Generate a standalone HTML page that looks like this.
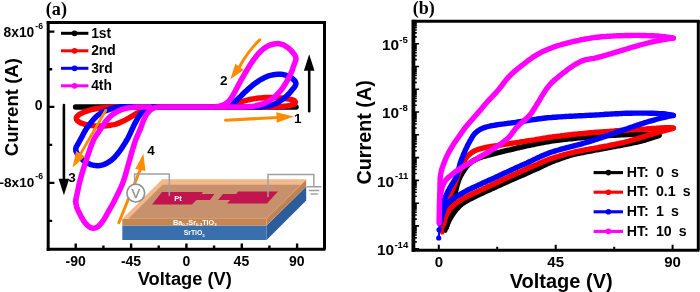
<!DOCTYPE html>
<html><head><meta charset="utf-8"><title>Figure</title>
<style>html,body{margin:0;padding:0;background:#fff}svg{display:block}</style></head>
<body>
<svg width="700" height="292" viewBox="0 0 700 292">
<rect width="700" height="292" fill="#fff"/>
<path d="M75.6,107.0 L296.0,107.0" fill="none" stroke="#000" stroke-width="5.5" stroke-linecap="round" stroke-linejoin="round" />
<path d="M160.0,106.9 L158.0,106.9 L156.0,106.9 L154.0,107.0 L152.0,107.2 L150.1,107.6 L148.1,108.1 L146.2,108.6 L144.3,109.3 L142.5,110.1 L140.8,111.0 L139.0,112.0 L137.3,113.0 L135.5,114.0 L133.8,115.1 L132.1,116.1 L130.4,117.1 L128.7,118.1 L126.9,119.1 L125.2,120.1 L123.4,121.0 L121.6,121.8 L119.7,122.6 L117.9,123.4 L116.0,124.1 L114.1,124.6 L112.1,124.9 L110.2,125.2 L108.2,125.5 L106.2,125.8 L104.2,125.9 L102.2,126.0 L100.2,126.0 L98.2,126.0 L96.2,126.0 L94.2,125.9 L92.2,125.6 L90.3,125.3 L88.3,125.0 L86.3,124.6 L84.4,124.2 L82.5,123.5 L80.6,122.8 L78.9,121.9 L77.4,120.7 L76.4,119.2 L76.3,117.6 L77.2,116.2 L78.6,114.9 L80.3,113.9 L82.1,113.0 L83.9,112.1 L85.7,111.4 L87.6,110.8 L89.6,110.2 L91.5,109.7 L93.4,109.2 L95.4,108.8 L97.4,108.5 L99.4,108.2 L101.3,107.9 L103.3,107.7 L105.3,107.5 L107.3,107.4 L109.3,107.2 L111.3,107.1 L113.3,107.0 L115.3,106.9" fill="none" stroke="#ff0000" stroke-width="5.5" stroke-linecap="round" stroke-linejoin="round" />
<path d="M222.0,106.9 L224.0,106.6 L226.0,106.2 L227.9,105.9 L229.9,105.5 L231.9,105.1 L233.8,104.5 L235.7,103.8 L237.5,103.1 L239.4,102.5 L241.3,101.9 L243.2,101.2 L245.2,100.7 L247.1,100.2 L249.1,99.7 L251.0,99.3 L253.0,98.9 L255.0,98.6 L257.0,98.3 L259.0,98.1 L261.0,97.9 L262.9,97.7 L264.9,97.6 L267.0,97.5 L269.0,97.5 L271.0,97.5 L273.0,97.5 L275.0,97.6 L277.0,97.7 L279.0,97.9 L281.0,98.0 L283.0,98.2 L285.0,98.5 L286.9,98.8 L288.9,99.1 L290.9,99.5 L292.8,100.0 L294.5,100.8 L295.4,101.9 L295.1,103.2 L293.8,104.2 L292.0,104.9 L290.0,105.4 L288.1,105.8 L286.1,106.1 L284.1,106.3 L282.1,106.5 L280.1,106.7 L278.1,106.8 L276.1,106.9 L274.1,106.9 L272.1,106.9 L270.1,106.9 L268.1,106.9 L266.1,106.9 L264.1,106.9 L262.1,106.9 L260.1,106.9 L258.1,106.9 L256.1,106.9 L254.0,106.9 L252.0,106.9 L250.0,106.9 L248.0,106.9 L246.0,106.9 L244.0,106.9 L242.0,106.9 L240.0,106.9" fill="none" stroke="#ff0000" stroke-width="5.5" stroke-linecap="round" stroke-linejoin="round" />
<path d="M135.0,106.9 L133.0,106.8 L131.0,106.8 L129.0,106.7 L127.0,106.7 L125.0,106.7 L123.0,106.8 L121.0,107.0 L119.0,107.2 L117.0,107.4 L115.1,107.7 L113.1,108.2 L111.2,108.8 L109.3,109.4 L107.4,110.1 L105.5,110.7 L103.7,111.6 L102.0,112.5 L100.3,113.6 L98.6,114.7 L97.0,115.9 L95.6,117.3 L94.3,118.7 L92.9,120.2 L91.6,121.8 L90.4,123.3 L89.2,124.9 L88.0,126.6 L86.8,128.2 L85.7,129.8 L84.7,131.5 L83.7,133.3 L82.8,135.1 L81.9,136.9 L80.9,138.6 L80.0,140.4 L79.0,142.1 L78.0,143.8 L77.0,145.6 L76.1,147.3 L75.7,149.2 L75.9,151.0 L76.7,152.7 L77.8,154.4 L79.0,156.0 L80.4,157.5 L81.7,158.9 L83.2,160.3 L84.7,161.5 L86.4,162.6 L88.2,163.5 L90.0,164.3 L91.9,164.9 L93.8,165.3 L95.8,165.6 L97.7,165.7 L99.7,165.5 L101.7,165.1 L103.6,164.6 L105.4,163.9 L107.2,163.0 L108.9,161.9 L110.6,160.8 L112.2,159.6 L113.6,158.3 L115.0,156.8 L116.3,155.3 L117.6,153.8 L118.8,152.2 L120.0,150.6 L121.1,149.0 L122.3,147.3 L123.4,145.6 L124.4,143.9 L125.5,142.2 L126.5,140.5 L127.5,138.8 L128.5,137.0 L129.3,135.2 L130.2,133.4 L131.0,131.6 L131.8,129.7 L132.7,127.9 L133.6,126.1 L134.4,124.3 L135.3,122.6 L136.3,120.8 L137.3,119.0 L138.3,117.3 L139.4,115.6 L140.5,114.0 L141.7,112.4 L143.2,111.0 L144.7,109.8 L146.3,108.8 L148.2,108.0 L150.1,107.4 L152.0,107.1 L154.0,106.9 L156.0,106.9 L158.0,106.9 L160.0,106.9" fill="none" stroke="#0000ff" stroke-width="5.5" stroke-linecap="round" stroke-linejoin="round" />
<path d="M222.0,106.9 L224.0,106.6 L226.0,106.2 L227.9,105.8 L229.8,105.2 L231.5,104.2 L233.1,103.0 L234.6,101.8 L236.2,100.5 L237.7,99.2 L239.1,97.8 L240.6,96.4 L242.0,95.0 L243.4,93.5 L244.8,92.1 L246.3,90.8 L247.8,89.4 L249.3,88.1 L250.8,86.8 L252.3,85.5 L253.9,84.3 L255.5,83.1 L257.2,81.9 L258.8,80.8 L260.5,79.7 L262.3,78.8 L264.1,77.8 L265.9,77.0 L267.7,76.2 L269.6,75.6 L271.6,75.1 L273.5,74.7 L275.5,74.4 L277.5,74.2 L279.5,74.2 L281.5,74.3 L283.4,74.6 L285.4,75.1 L287.2,75.8 L289.1,76.5 L290.8,77.5 L292.4,78.6 L293.9,79.9 L295.2,81.4 L295.9,83.0 L295.8,84.7 L294.9,86.4 L293.7,88.0 L292.4,89.5 L291.2,91.1 L289.9,92.7 L288.6,94.1 L287.1,95.5 L285.6,96.9 L284.1,98.2 L282.5,99.4 L280.9,100.5 L279.2,101.6 L277.4,102.6 L275.7,103.5 L273.8,104.3 L271.9,104.9 L270.0,105.5 L268.1,106.0 L266.1,106.3 L264.1,106.6 L262.1,106.8 L260.1,107.0 L258.1,107.0 L256.1,107.0 L254.1,107.0 L252.1,106.9 L250.1,106.9 L248.1,106.9 L246.1,106.9 L244.1,106.9 L242.1,106.9 L240.1,106.9 L238.1,106.9 L236.0,106.9 L234.0,106.9 L232.0,106.9 L230.0,106.9 L228.0,106.9 L226.0,106.9 L225.0,106.9" fill="none" stroke="#0000ff" stroke-width="5.5" stroke-linecap="round" stroke-linejoin="round" />
<path d="M75.6,201.4 L76.0,199.4 L76.3,197.5 L76.8,195.5 L77.2,193.5 L77.6,191.6 L78.0,189.6 L78.4,187.7 L78.8,185.7 L79.2,183.7 L79.7,181.8 L80.3,179.9 L80.8,177.9 L81.3,176.0 L81.8,174.1 L82.4,172.2 L83.0,170.2 L83.6,168.3 L84.2,166.4 L84.8,164.5 L85.4,162.6 L86.1,160.7 L86.7,158.8 L87.3,156.9 L88.0,155.0 L88.6,153.1 L89.3,151.2 L89.9,149.3 L90.6,147.4 L91.2,145.6 L92.0,143.7 L92.8,141.9 L93.6,140.0 L94.5,138.3 L95.5,136.5 L96.6,134.9 L97.8,133.2 L98.9,131.6 L100.0,129.9 L101.1,128.3 L102.3,126.6 L103.4,124.9 L104.5,123.2 L105.6,121.6 L106.9,120.1 L108.2,118.6 L109.6,117.2 L111.1,115.8 L112.6,114.5 L114.3,113.4 L116.0,112.4 L117.7,111.4 L119.5,110.5 L121.3,109.7 L123.2,109.1 L125.1,108.5 L127.1,108.0 L129.0,107.7 L131.0,107.4 L133.0,107.2 L135.0,107.1 L137.0,107.0 L139.0,106.9 L141.0,106.9 L143.0,106.9 L145.0,106.9 L147.0,106.9 L149.0,106.9 L150.0,106.9" fill="none" stroke="#ff00ff" stroke-width="5.5" stroke-linecap="round" stroke-linejoin="round" />
<path d="M75.6,201.4 L75.9,203.4 L76.3,205.3 L76.7,207.3 L77.4,209.1 L78.3,210.9 L79.2,212.7 L80.1,214.5 L81.0,216.3 L82.0,218.0 L83.0,219.7 L84.1,221.4 L85.3,223.0 L86.6,224.5 L88.0,225.9 L89.6,227.1 L91.3,227.9 L93.2,228.2 L95.1,228.0 L96.9,227.3 L98.5,226.2 L99.9,224.8 L101.2,223.3 L102.4,221.7 L103.6,220.1 L104.6,218.4 L105.6,216.7 L106.6,214.9 L107.5,213.1 L108.5,211.4 L109.5,209.6 L110.5,207.9 L111.5,206.2 L112.5,204.4 L113.4,202.7 L114.3,200.9 L115.2,199.1 L116.1,197.3 L117.0,195.5 L117.9,193.7 L118.8,191.9 L119.6,190.1 L120.5,188.3 L121.3,186.5 L122.1,184.6 L122.8,182.8 L123.5,180.9 L124.1,179.0 L124.8,177.1 L125.3,175.2 L125.9,173.3 L126.4,171.3 L126.9,169.4 L127.5,167.5 L128.0,165.6 L128.6,163.6 L129.1,161.7 L129.7,159.8 L130.2,157.9 L130.8,155.9 L131.3,154.0 L131.9,152.1 L132.4,150.2 L133.0,148.2 L133.6,146.3 L134.2,144.4 L134.8,142.5 L135.4,140.6 L136.1,138.7 L136.9,136.9 L137.7,135.1 L138.5,133.2 L139.3,131.4 L140.1,129.6 L140.8,127.7 L141.5,125.8 L142.2,123.9 L142.9,122.1 L143.6,120.2 L144.4,118.4 L145.3,116.6 L146.2,114.8 L147.4,113.2 L148.6,111.7 L150.1,110.3 L151.6,109.1 L153.4,108.2 L155.2,107.5 L157.1,107.2 L159.1,107.0 L161.1,106.9 L163.1,106.9 L165.1,106.9 L167.1,106.9 L169.1,106.9 L171.1,106.9 L173.1,106.9 L175.1,106.9 L177.1,106.9 L179.1,106.9 L181.1,106.9 L183.1,106.9 L185.1,106.9 L187.1,106.9 L189.1,106.9 L191.1,106.9 L193.1,106.9 L195.1,106.9 L197.1,106.9 L199.1,106.9 L201.1,106.9 L203.1,106.9 L205.1,106.9 L207.2,106.9 L209.2,106.9 L211.2,106.9 L213.2,106.9 L215.1,106.8 L217.1,106.6 L219.1,106.2 L221.0,105.7 L222.9,105.0 L224.7,104.2 L226.4,103.2 L227.9,102.0 L229.4,100.6 L230.6,99.0 L231.7,97.4 L232.7,95.6 L233.7,93.9 L234.7,92.2 L235.6,90.4 L236.5,88.6 L237.5,86.9 L238.4,85.1 L239.3,83.3 L240.3,81.6 L241.2,79.8 L242.2,78.1 L243.3,76.4 L244.3,74.6 L245.3,72.9 L246.3,71.2 L247.3,69.5 L248.4,67.8 L249.4,66.0 L250.5,64.3 L251.6,62.7 L252.7,61.0 L253.9,59.4 L255.1,57.8 L256.3,56.2 L257.5,54.7 L258.9,53.2 L260.3,51.8 L261.7,50.4 L263.2,49.0 L264.8,47.9 L266.5,46.8 L268.2,45.8 L270.0,45.0 L271.9,44.5 L273.9,44.0 L275.8,43.7 L277.8,43.6 L279.8,43.8 L281.7,44.3 L283.5,44.9 L285.3,45.9 L286.9,47.0 L288.5,48.1 L290.0,49.5 L291.4,50.9 L292.7,52.4 L294.0,54.0 L295.1,55.6 L295.8,57.3 L296.0,59.2 L295.5,61.0 L294.8,62.9 L294.1,64.7 L293.4,66.6 L292.8,68.5 L292.2,70.4 L291.4,72.3 L290.6,74.1 L289.7,75.9 L288.8,77.7 L287.8,79.4 L286.9,81.2 L285.9,82.9 L284.9,84.6 L283.8,86.3 L282.7,88.0 L281.5,89.6 L280.2,91.1 L278.8,92.6 L277.5,94.0 L276.1,95.4 L274.6,96.8 L273.1,98.1 L271.5,99.3 L269.8,100.4 L268.1,101.4 L266.3,102.3 L264.5,103.2 L262.7,103.9 L260.8,104.5 L258.8,105.0 L256.9,105.5 L255.0,105.9 L253.0,106.2 L251.0,106.4 L249.0,106.6 L247.0,106.7 L245.0,106.8 L243.0,106.9 L241.0,106.9 L239.0,106.9 L237.0,106.9 L235.0,106.9 L233.0,106.9 L231.0,106.9 L229.0,106.9 L227.0,106.9 L225.0,106.9 L223.0,106.9 L221.0,106.9 L219.0,106.9 L217.0,106.9 L216.0,106.9" fill="none" stroke="#ff00ff" stroke-width="5.5" stroke-linecap="round" stroke-linejoin="round" />
<path d="M63.9,105.0 L63.9,179.7" stroke="#000" stroke-width="2.6" fill="none" stroke-linecap="round"/>
<path d="M63.9,195.2 L58.6,178.7 L69.2,178.7 Z" fill="#000"/>
<path d="M309.2,111.2 L309.2,69.8" stroke="#000" stroke-width="2.6" fill="none" stroke-linecap="round"/>
<path d="M309.2,54.3 L314.5,70.8 L303.9,70.8 Z" fill="#000"/>
<path d="M225.5,120.2 L277.5,117.5" stroke="#ff8c00" stroke-width="3.1" fill="none" stroke-linecap="round"/>
<path d="M293.8,116.6 L276.8,122.7 L276.3,112.3 Z" fill="#ff8c00"/>
<path d="M259.7,39.8 Q247.4,51.7 239.0,67.7" stroke="#ff8c00" stroke-width="3.0" fill="none" stroke-linecap="round"/>
<path d="M230.3,79.3 L235.4,63.8 L243.7,70.0 Z" fill="#ff8c00"/>
<path d="M105.8,110.3 L80.1,154.6" stroke="#ff8c00" stroke-width="2.8" fill="none" stroke-linecap="round"/>
<path d="M72.6,167.6 L76.1,151.1 L85.1,156.4 Z" fill="#ff8c00"/>
<path d="M118.8,222.8 L140.5,169.0" stroke="#ff8c00" stroke-width="3.0" fill="none" stroke-linecap="round"/>
<path d="M143.4,153.8 L145.5,171.0 L135.2,169.1 Z" fill="#ff8c00"/>
<text x="297.8" y="123" font-family='"Liberation Sans", Arial, sans-serif' font-size="13.5" font-weight="bold" text-anchor="middle" fill="#000" >1</text>
<text x="223.7" y="85.2" font-family='"Liberation Sans", Arial, sans-serif' font-size="13.5" font-weight="bold" text-anchor="middle" fill="#000" >2</text>
<text x="72" y="181.6" font-family='"Liberation Sans", Arial, sans-serif' font-size="13.5" font-weight="bold" text-anchor="middle" fill="#000" >3</text>
<text x="151.1" y="154.8" font-family='"Liberation Sans", Arial, sans-serif' font-size="13.5" font-weight="bold" text-anchor="middle" fill="#000" >4</text>
<g>
<polygon points="122.3,225.4 266.6,225.4 266.6,239.9 122.3,239.9" fill="#3a6fae"/>
<polygon points="266.6,225.4 306.2,186.4 306.2,200.6 266.6,239.9" fill="#2d5c9b"/>
<polygon points="122.3,218.8 266.6,218.8 266.6,225.6 122.3,225.6" fill="#c6864f"/>
<polygon points="266.6,218.8 306.2,179.4 306.2,186.6 266.6,225.6" fill="#bf8252"/>
<polygon points="122.3,218.8 162.2,179.2 306.2,179.2 266.6,218.8" fill="#f4b98a"/>
<polygon points="128.3,218.8 162.5,184.8 300.6,184.8 266.6,218.8" fill="#c7916d"/>
<polygon points="162,192 203,192 201.4,194 214.4,194 210,200 196.4,200 192,204.4 152,204.4" fill="#c2154f"/>
<polygon points="223,194 236.2,194 238,191.6 278,191.6 267,203.6 227,203.6 230.2,200 218,200" fill="#c2154f"/>
<path d="M134.6,184.2 V173.9 H169.3 V196" fill="none" stroke="#a0a0a0" stroke-width="1.5"/>
<path d="M268,197 V174.6 H313.8 V186.7" fill="none" stroke="#a0a0a0" stroke-width="1.5"/>
<path d="M306.5,186.8 H321.5 M308.8,190.5 H319.3 M310.6,194 H317.8" fill="none" stroke="#a0a0a0" stroke-width="1.4"/>
<circle cx="135.8" cy="193.1" r="8.9" fill="#fff" stroke="#929292" stroke-width="1.7"/>
<text x="135.8" y="197.8" font-family='"Liberation Sans", Arial, sans-serif' font-size="13" text-anchor="middle" fill="#929292" stroke="#929292" stroke-width="0.3">V</text>
<text x="178" y="201.4" font-family='"Liberation Sans", Arial, sans-serif' font-size="7.6" font-weight="bold" text-anchor="middle" fill="#fff">Pt</text>
<text x="194.8" y="224.6" font-family='"Liberation Sans", Arial, sans-serif' font-size="7.3" font-weight="bold" text-anchor="middle" fill="#fff">Ba<tspan font-size="4.4" dy="1.6">0.7</tspan><tspan dy="-1.6">Sr</tspan><tspan font-size="4.4" dy="1.6">0.3</tspan><tspan dy="-1.6">TiO</tspan><tspan font-size="4.4" dy="1.6">3</tspan></text>
<text x="194.2" y="235" font-family='"Liberation Sans", Arial, sans-serif' font-size="6.9" font-weight="bold" text-anchor="middle" fill="#fff">SrTiO<tspan font-size="4.2" dy="1.5">3</tspan></text>
</g>
<path d="M48.2,22.6 H324.5" stroke="#000" stroke-width="3" fill="none" stroke-linecap="square"/>
<path d="M324.5,22.6 V249.3" stroke="#000" stroke-width="3" fill="none"/>
<path d="M48.2,21.1 V250.8" stroke="#000" stroke-width="3" fill="none"/>
<path d="M46.7,249.3 H325.5" stroke="#000" stroke-width="3" fill="none"/>
<path d="M75.7,249.3 v-5.8 M103.4,249.3 v-3.7 M131.1,249.3 v-5.8 M158.7,249.3 v-3.7 M186.4,249.3 v-5.8 M214.1,249.3 v-3.7 M241.8,249.3 v-5.8 M269.4,249.3 v-3.7 M297.1,249.3 v-5.8 M48.2,31.6 h6.2 M48.2,69.2 h4 M48.2,106.9 h6.2 M48.2,144.9 h4 M48.2,182.9 h6.2 M48.2,220.9 h4" stroke="#000" stroke-width="2.4" fill="none"/>
<text x="75.6" y="265.7" font-family='"Liberation Sans", Arial, sans-serif' font-size="14" font-weight="bold" text-anchor="middle" fill="#000" >-90</text>
<text x="131.0" y="265.7" font-family='"Liberation Sans", Arial, sans-serif' font-size="14" font-weight="bold" text-anchor="middle" fill="#000" >-45</text>
<text x="186.3" y="265.7" font-family='"Liberation Sans", Arial, sans-serif' font-size="14" font-weight="bold" text-anchor="middle" fill="#000" >0</text>
<text x="241.4" y="265.7" font-family='"Liberation Sans", Arial, sans-serif' font-size="14" font-weight="bold" text-anchor="middle" fill="#000" >45</text>
<text x="296.8" y="265.7" font-family='"Liberation Sans", Arial, sans-serif' font-size="14" font-weight="bold" text-anchor="middle" fill="#000" >90</text>
<text x="42.6" y="110.30000000000001" font-family='"Liberation Sans", Arial, sans-serif' font-size="14" font-weight="bold" text-anchor="end" fill="#000" >0</text>
<text x="34.3" y="36.80000000000001" font-family='"Liberation Sans", Arial, sans-serif' font-size="13.8" font-weight="bold" text-anchor="end" fill="#000">8x10</text>
<text x="35.3" y="28.50000000000001" font-family='"Liberation Sans", Arial, sans-serif' font-size="8.6" font-weight="bold" text-anchor="start" fill="#000">-6</text>
<text x="34.3" y="187.39999999999998" font-family='"Liberation Sans", Arial, sans-serif' font-size="13.6" font-weight="bold" text-anchor="end" fill="#000">-8x10</text>
<text x="35.3" y="179.09999999999997" font-family='"Liberation Sans", Arial, sans-serif' font-size="8.6" font-weight="bold" text-anchor="start" fill="#000">-6</text>
<text x="184.8" y="284.6" font-family='"Liberation Sans", Arial, sans-serif' font-size="18.3" font-weight="bold" text-anchor="middle" fill="#000" >Voltage (V)</text>
<text transform="translate(17.7,107.1) rotate(-90)" font-family='"Liberation Sans", Arial, sans-serif' font-size="18.6" font-weight="bold" text-anchor="middle" fill="#000">Current (A)</text>
<text x="45.8" y="14.5" font-family='"Liberation Serif", "Times New Roman", serif' font-size="18.2" font-weight="bold" text-anchor="start" fill="#000" >(a)</text>
<path d="M61,33.3 H88.4" stroke="#000" stroke-width="3" fill="none"/>
<circle cx="74.6" cy="33.3" r="2.9" fill="#000"/>
<text x="91.2" y="37.5" font-family='"Liberation Sans", Arial, sans-serif' font-size="13.8" font-weight="bold" text-anchor="start" fill="#000" >1st</text>
<path d="M61,50.8 H88.4" stroke="#ff0000" stroke-width="3" fill="none"/>
<circle cx="74.6" cy="50.8" r="2.9" fill="#ff0000"/>
<text x="91.2" y="55.0" font-family='"Liberation Sans", Arial, sans-serif' font-size="13.8" font-weight="bold" text-anchor="start" fill="#000" >2nd</text>
<path d="M61,68.3 H88.4" stroke="#0000ff" stroke-width="3" fill="none"/>
<circle cx="74.6" cy="68.3" r="2.9" fill="#0000ff"/>
<text x="91.2" y="72.5" font-family='"Liberation Sans", Arial, sans-serif' font-size="13.8" font-weight="bold" text-anchor="start" fill="#000" >3rd</text>
<path d="M61,85.8 H88.4" stroke="#ff00ff" stroke-width="3" fill="none"/>
<circle cx="74.6" cy="85.8" r="2.9" fill="#ff00ff"/>
<text x="91.2" y="90.0" font-family='"Liberation Sans", Arial, sans-serif' font-size="13.8" font-weight="bold" text-anchor="start" fill="#000" >4th</text>
<path d="M446.2,227.5 L446.7,225.6 L447.2,223.6 L447.7,221.7 L448.2,219.7 L448.7,217.8 L449.3,215.9 L449.9,214.0 L450.4,212.0 L451.0,210.1 L451.5,208.2 L452.1,206.2 L452.6,204.3 L453.1,202.4 L453.5,200.4 L454.0,198.5 L454.4,196.5 L454.8,194.5 L455.2,192.6 L455.7,190.6 L456.2,188.7 L456.7,186.7 L457.2,184.8 L457.8,182.9 L458.4,181.0 L459.1,179.1 L459.9,177.3 L460.8,175.5 L461.8,173.8 L462.8,172.0 L463.9,170.4 L465.0,168.7 L466.2,167.1 L467.5,165.6 L468.8,164.2 L470.3,162.9 L471.9,161.7 L473.6,160.6 L475.3,159.7 L477.1,158.8 L478.9,158.1 L480.8,157.4 L482.7,156.8 L484.7,156.2 L486.6,155.6 L488.5,155.1 L490.5,154.6 L492.4,154.1 L494.3,153.6 L496.3,153.1 L498.2,152.6 L500.2,152.2 L502.1,151.7 L504.1,151.2 L506.0,150.7 L508.0,150.2 L509.9,149.8 L511.9,149.3 L513.8,148.8 L515.8,148.4 L517.7,147.9 L519.7,147.5 L521.6,147.0 L523.6,146.6 L525.5,146.1 L527.5,145.7 L529.5,145.3 L531.4,144.9 L533.4,144.5 L535.3,144.1 L537.3,143.7 L539.3,143.3 L541.2,142.9 L543.2,142.5 L545.2,142.2 L547.2,141.8 L549.1,141.5 L551.1,141.1 L553.1,140.9 L555.1,140.6 L557.1,140.4 L559.1,140.1 L561.1,139.9 L563.0,139.6 L565.0,139.4 L567.0,139.2 L569.0,138.9 L571.0,138.7 L573.0,138.5 L575.0,138.3 L577.0,138.0 L579.0,137.9 L581.0,137.7 L583.0,137.5 L585.0,137.3 L587.0,137.1 L589.0,137.0 L591.0,136.8 L593.0,136.6 L595.0,136.4 L597.0,136.3 L599.0,136.1 L601.0,136.0 L603.0,135.9 L605.0,135.7 L607.0,135.6 L609.0,135.5 L611.0,135.4 L613.0,135.3 L615.0,135.2 L617.0,135.1 L619.0,135.0 L621.0,134.9 L623.0,134.8 L625.0,134.7 L627.0,134.6 L629.0,134.5 L631.0,134.4 L633.0,134.3 L635.0,134.2 L637.0,134.2 L639.0,134.1 L641.0,134.1 L643.0,134.1 L645.0,134.1 L647.0,134.1 L649.0,134.2 L651.0,134.3 L653.0,134.5 L655.0,134.7 L657.0,134.9 L659.0,135.2" fill="none" stroke="#000" stroke-width="5.4" stroke-linecap="round" stroke-linejoin="round" />
<path d="M659.0,135.4 L657.1,136.1 L655.2,136.8 L653.3,137.4 L651.4,138.0 L649.5,138.6 L647.6,139.2 L645.7,139.8 L643.7,140.3 L641.8,140.8 L639.8,141.4 L637.9,141.8 L635.9,142.3 L634.0,142.7 L632.0,143.1 L630.1,143.5 L628.1,143.9 L626.1,144.3 L624.1,144.7 L622.2,145.1 L620.2,145.5 L618.2,145.8 L616.3,146.2 L614.3,146.6 L612.3,146.9 L610.3,147.3 L608.4,147.7 L606.4,148.0 L604.4,148.4 L602.4,148.8 L600.5,149.1 L598.5,149.5 L596.5,149.9 L594.5,150.2 L592.6,150.6 L590.6,151.0 L588.6,151.3 L586.6,151.7 L584.7,152.1 L582.7,152.5 L580.7,152.9 L578.8,153.3 L576.8,153.7 L574.9,154.2 L572.9,154.7 L571.0,155.2 L569.1,155.8 L567.1,156.4 L565.2,157.0 L563.3,157.6 L561.4,158.2 L559.5,158.9 L557.6,159.6 L555.8,160.3 L553.9,161.0 L552.0,161.8 L550.2,162.6 L548.3,163.3 L546.5,164.2 L544.7,165.0 L542.9,165.9 L541.1,166.8 L539.3,167.7 L537.5,168.5 L535.7,169.3 L533.8,170.1 L532.0,170.9 L530.1,171.7 L528.3,172.5 L526.5,173.4 L524.7,174.2 L522.8,175.0 L521.0,175.8 L519.1,176.6 L517.3,177.4 L515.4,178.2 L513.6,178.9 L511.7,179.7 L509.9,180.5 L508.1,181.4 L506.2,182.2 L504.4,183.0 L502.6,183.9 L500.8,184.7 L498.9,185.5 L497.1,186.4 L495.3,187.2 L493.5,188.0 L491.6,188.9 L489.8,189.7 L488.0,190.5 L486.1,191.3 L484.3,192.2 L482.5,193.0 L480.7,193.9 L478.9,194.7 L477.0,195.6 L475.2,196.5 L473.4,197.4 L471.7,198.3 L469.9,199.2 L468.1,200.1 L466.3,201.1 L464.6,202.1 L463.0,203.2 L461.4,204.4 L459.9,205.7 L458.5,207.1 L457.1,208.6 L455.8,210.1 L454.6,211.7 L453.4,213.3 L452.3,215.0 L451.2,216.6 L450.2,218.4 L449.2,220.1 L448.4,221.9 L447.6,223.7 L446.9,225.6 L446.2,227.5" fill="none" stroke="#000" stroke-width="5.4" stroke-linecap="round" stroke-linejoin="round" />
<path d="M442.9,227.6 L443.3,225.6 L443.7,223.7 L444.1,221.7 L444.4,219.7 L444.8,217.7 L445.2,215.8 L445.5,213.8 L445.9,211.8 L446.3,209.9 L446.6,207.9 L447.1,205.9 L447.5,204.0 L448.0,202.0 L448.5,200.1 L449.0,198.2 L449.7,196.3 L450.4,194.4 L451.1,192.5 L451.9,190.7 L452.7,188.9 L453.5,187.0 L454.2,185.2 L455.0,183.3 L455.7,181.4 L456.4,179.5 L457.1,177.6 L457.8,175.8 L458.5,173.9 L459.2,172.0 L459.9,170.2 L460.7,168.3 L461.5,166.5 L462.3,164.6 L463.2,162.8 L464.1,161.1 L465.1,159.4 L466.2,157.7 L467.5,156.2 L468.9,154.8 L470.4,153.6 L472.0,152.4 L473.7,151.4 L475.4,150.5 L477.3,149.8 L479.1,149.1 L481.1,148.6 L483.0,148.1 L484.9,147.6 L486.9,147.2 L488.9,146.8 L490.8,146.5 L492.8,146.2 L494.8,145.9 L496.8,145.6 L498.8,145.3 L500.8,145.0 L502.8,144.7 L504.7,144.4 L506.7,144.1 L508.7,143.8 L510.7,143.5 L512.7,143.2 L514.7,142.9 L516.6,142.6 L518.6,142.3 L520.6,142.0 L522.6,141.7 L524.6,141.4 L526.6,141.0 L528.5,140.7 L530.5,140.4 L532.5,140.1 L534.5,139.8 L536.5,139.4 L538.4,139.1 L540.4,138.8 L542.4,138.5 L544.4,138.1 L546.4,137.8 L548.3,137.5 L550.3,137.2 L552.3,137.0 L554.3,136.7 L556.3,136.4 L558.3,136.2 L560.3,136.0 L562.3,135.7 L564.3,135.5 L566.3,135.2 L568.3,135.0 L570.2,134.8 L572.2,134.5 L574.2,134.3 L576.2,134.1 L578.2,133.9 L580.2,133.7 L582.2,133.6 L584.2,133.4 L586.2,133.2 L588.2,133.0 L590.2,132.8 L592.2,132.7 L594.2,132.5 L596.2,132.3 L598.2,132.2 L600.2,132.0 L602.2,131.9 L604.2,131.7 L606.2,131.6 L608.2,131.4 L610.2,131.3 L612.2,131.1 L614.2,131.0 L616.2,130.8 L618.2,130.7 L620.2,130.5 L622.2,130.3 L624.2,130.2 L626.2,130.1 L628.2,130.0 L630.2,129.9 L632.2,129.8 L634.2,129.7 L636.2,129.6 L638.3,129.5 L640.3,129.4 L642.3,129.2 L644.3,129.1 L646.3,129.0 L648.3,128.8 L650.3,128.7 L652.3,128.5 L654.3,128.4 L656.3,128.3 L658.3,128.1 L660.3,128.0 L662.3,127.9 L664.3,127.8 L666.3,127.8 L668.3,127.8 L670.3,127.8 L672.3,127.9 L673.3,127.9" fill="none" stroke="#ff0000" stroke-width="5.4" stroke-linecap="round" stroke-linejoin="round" />
<path d="M673.3,128.3 L671.4,128.8 L669.4,129.3 L667.5,129.8 L665.6,130.3 L663.6,130.8 L661.7,131.3 L659.8,131.9 L657.8,132.4 L655.9,133.0 L654.0,133.5 L652.1,134.1 L650.2,134.7 L648.2,135.2 L646.3,135.8 L644.4,136.4 L642.5,137.0 L640.6,137.6 L638.7,138.1 L636.8,138.7 L634.8,139.3 L632.9,139.9 L631.0,140.4 L629.1,141.0 L627.2,141.5 L625.2,142.0 L623.3,142.5 L621.3,143.0 L619.4,143.4 L617.4,143.8 L615.5,144.2 L613.5,144.6 L611.6,145.0 L609.6,145.4 L607.6,145.8 L605.7,146.1 L603.7,146.5 L601.7,146.8 L599.8,147.2 L597.8,147.6 L595.8,147.9 L593.9,148.3 L591.9,148.6 L589.9,149.0 L588.0,149.4 L586.0,149.7 L584.0,150.1 L582.1,150.5 L580.1,150.9 L578.1,151.3 L576.2,151.7 L574.2,152.1 L572.3,152.6 L570.3,153.0 L568.4,153.5 L566.5,154.0 L564.5,154.5 L562.6,155.1 L560.7,155.6 L558.8,156.2 L556.8,156.8 L554.9,157.4 L553.0,158.0 L551.1,158.6 L549.2,159.3 L547.4,160.0 L545.5,160.7 L543.7,161.5 L541.9,162.3 L540.0,163.1 L538.2,163.9 L536.4,164.7 L534.5,165.4 L532.7,166.2 L530.8,167.0 L529.0,167.8 L527.2,168.6 L525.4,169.5 L523.6,170.3 L521.8,171.1 L519.9,172.0 L518.1,172.8 L516.3,173.6 L514.5,174.4 L512.6,175.3 L510.8,176.1 L509.0,176.9 L507.2,177.8 L505.4,178.6 L503.6,179.4 L501.7,180.3 L499.9,181.1 L498.1,182.0 L496.3,182.8 L494.5,183.7 L492.7,184.5 L490.9,185.3 L489.1,186.2 L487.2,187.0 L485.4,187.9 L483.6,188.7 L481.8,189.6 L480.0,190.4 L478.2,191.3 L476.4,192.1 L474.6,193.0 L472.7,193.8 L470.9,194.6 L469.1,195.5 L467.3,196.4 L465.6,197.3 L463.8,198.2 L462.1,199.2 L460.4,200.3 L458.7,201.4 L457.1,202.5 L455.5,203.7 L453.9,205.0 L452.5,206.3 L451.1,207.7 L449.9,209.3 L448.7,210.9 L447.6,212.5 L446.7,214.3 L445.9,216.1 L445.2,217.9 L444.6,219.8 L444.0,221.7 L443.6,223.7 L443.2,225.6 L442.9,227.6" fill="none" stroke="#ff0000" stroke-width="5.4" stroke-linecap="round" stroke-linejoin="round" />
<path d="M440.0,222.0 L440.6,220.1 L441.1,218.2 L441.6,216.2 L442.0,214.3 L442.4,212.3 L442.6,210.4 L442.8,208.4 L443.0,206.4 L443.3,204.4 L443.7,202.5 L444.2,200.6 L444.8,198.7 L445.5,196.8 L446.2,194.9 L447.1,193.1 L447.9,191.3 L448.9,189.6 L449.9,187.8 L450.9,186.1 L451.9,184.4 L453.0,182.7 L454.0,181.0 L455.0,179.3 L456.0,177.6 L456.8,175.8 L457.5,173.9 L458.0,172.1 L458.5,170.1 L459.0,168.2 L459.4,166.2 L459.9,164.3 L460.5,162.4 L461.2,160.5 L461.8,158.6 L462.6,156.8 L463.3,154.9 L464.1,153.1 L464.9,151.2 L465.7,149.4 L466.6,147.6 L467.4,145.8 L468.3,144.0 L469.3,142.3 L470.2,140.5 L471.2,138.8 L472.2,137.1 L473.3,135.4 L474.5,133.9 L475.9,132.5 L477.4,131.2 L479.0,130.1 L480.7,129.2 L482.5,128.3 L484.4,127.6 L486.2,127.0 L488.2,126.5 L490.1,126.0 L492.1,125.6 L494.0,125.3 L496.0,125.0 L498.0,124.7 L500.0,124.4 L502.0,124.1 L503.9,123.9 L505.9,123.6 L507.9,123.3 L509.9,123.1 L511.9,122.8 L513.9,122.6 L515.8,122.3 L517.8,122.0 L519.8,121.7 L521.8,121.4 L523.8,121.1 L525.7,120.8 L527.7,120.5 L529.7,120.2 L531.7,119.9 L533.7,119.6 L535.6,119.3 L537.6,119.0 L539.6,118.7 L541.6,118.5 L543.6,118.2 L545.5,118.0 L547.5,117.8 L549.5,117.6 L551.5,117.5 L553.5,117.3 L555.5,117.2 L557.5,117.0 L559.5,116.9 L561.5,116.8 L563.5,116.6 L565.5,116.5 L567.5,116.4 L569.5,116.3 L571.5,116.2 L573.5,116.1 L575.5,116.0 L577.5,115.9 L579.5,115.8 L581.5,115.7 L583.5,115.6 L585.5,115.5 L587.5,115.4 L589.5,115.3 L591.5,115.2 L593.5,115.1 L595.5,115.0 L597.5,114.9 L599.5,114.8 L601.5,114.6 L603.5,114.5 L605.5,114.3 L607.5,114.2 L609.5,114.1 L611.5,114.0 L613.5,113.9 L615.5,113.8 L617.5,113.7 L619.5,113.6 L621.5,113.5 L623.5,113.4 L625.5,113.3 L627.5,113.3 L629.5,113.2 L631.5,113.2 L633.5,113.1 L635.5,113.1 L637.5,113.1 L639.5,113.1 L641.5,113.1 L643.5,113.1 L645.5,113.1 L647.5,113.1 L649.5,113.2 L651.5,113.2 L653.5,113.3 L655.5,113.4 L657.5,113.5 L659.5,113.6 L661.5,113.7 L663.5,113.8 L665.4,114.0 L667.4,114.3 L669.4,114.6 L671.3,115.0 L673.3,115.4" fill="none" stroke="#0000ff" stroke-width="5.4" stroke-linecap="round" stroke-linejoin="round" />
<path d="M673.3,115.4 L671.3,115.8 L669.4,116.2 L667.4,116.6 L665.5,117.1 L663.5,117.5 L661.6,118.0 L659.7,118.5 L657.7,119.0 L655.8,119.5 L653.9,120.1 L651.9,120.6 L650.0,121.2 L648.1,121.7 L646.2,122.3 L644.3,122.9 L642.4,123.5 L640.5,124.1 L638.6,124.7 L636.7,125.4 L634.8,126.0 L632.9,126.7 L631.0,127.3 L629.1,128.0 L627.2,128.7 L625.3,129.3 L623.4,130.0 L621.5,130.6 L619.7,131.3 L617.8,131.9 L615.9,132.6 L614.0,133.3 L612.1,133.9 L610.2,134.6 L608.3,135.2 L606.4,135.9 L604.5,136.6 L602.7,137.2 L600.8,137.9 L598.9,138.5 L597.0,139.2 L595.1,139.8 L593.2,140.4 L591.3,141.0 L589.4,141.6 L587.4,142.2 L585.5,142.7 L583.6,143.3 L581.7,143.9 L579.8,144.4 L577.8,144.9 L575.9,145.4 L574.0,145.9 L572.0,146.4 L570.1,146.9 L568.1,147.4 L566.2,147.9 L564.3,148.4 L562.3,148.9 L560.4,149.4 L558.5,150.0 L556.5,150.5 L554.6,151.1 L552.7,151.7 L550.8,152.3 L549.0,153.0 L547.1,153.7 L545.2,154.5 L543.4,155.2 L541.6,156.0 L539.7,156.9 L537.9,157.7 L536.1,158.6 L534.3,159.4 L532.5,160.3 L530.7,161.2 L528.9,162.0 L527.1,162.9 L525.3,163.7 L523.5,164.5 L521.6,165.3 L519.8,166.1 L518.0,166.9 L516.1,167.7 L514.3,168.6 L512.5,169.4 L510.7,170.3 L508.9,171.1 L507.1,172.0 L505.3,172.8 L503.4,173.6 L501.6,174.5 L499.8,175.3 L498.0,176.2 L496.2,177.0 L494.4,177.9 L492.6,178.7 L490.7,179.5 L488.9,180.3 L487.1,181.1 L485.2,181.9 L483.4,182.7 L481.6,183.6 L479.8,184.5 L478.0,185.3 L476.2,186.2 L474.4,187.0 L472.6,187.8 L470.7,188.7 L468.9,189.5 L467.2,190.4 L465.4,191.4 L463.6,192.3 L461.9,193.3 L460.2,194.3 L458.4,195.3 L456.7,196.3 L455.0,197.4 L453.4,198.5 L451.8,199.7 L450.3,200.9 L448.8,202.3 L447.5,203.7 L446.3,205.3 L445.2,207.0 L444.3,208.7 L443.6,210.5 L442.9,212.4 L442.3,214.3 L441.8,216.2 L441.4,218.2 L440.9,220.1 L440.4,222.1 L440.0,224.0" fill="none" stroke="#0000ff" stroke-width="5.4" stroke-linecap="round" stroke-linejoin="round" />
<path d="M446.2,227 L445.2,231" stroke="#000" stroke-width="2.6" fill="none" stroke-linecap="round"/>
<circle cx="445.3" cy="230.6" r="2.3" fill="#000"/>
<path d="M442.9,227 L442.1,232.6" stroke="#ff0000" stroke-width="2.6" fill="none" stroke-linecap="round"/>
<circle cx="442.2" cy="232.4" r="2.2" fill="#ff0000"/>
<path d="M439.8,223 L438.7,238" stroke="#0000ff" stroke-width="2.2" fill="none"/>
<circle cx="439" cy="229.8" r="2.6" fill="#0000ff"/><circle cx="438.7" cy="238" r="2.6" fill="#0000ff"/>
<path d="M439.1,223.1 L439.1,221.1 L439.2,219.1 L439.2,217.1 L439.2,215.1 L439.3,213.1 L439.3,211.1 L439.3,209.1 L439.4,207.1 L439.4,205.1 L439.5,203.1 L439.5,201.1 L439.6,199.1 L439.7,197.1 L439.7,195.1 L439.8,193.1 L439.9,191.0 L439.9,189.0 L440.0,187.0 L440.0,185.0 L440.0,183.0 L440.1,181.0 L440.1,179.0 L440.3,177.0 L440.5,175.1 L440.9,173.1 L441.3,171.2 L441.8,169.3 L442.4,167.4 L443.1,165.5 L443.8,163.6 L444.5,161.7 L445.2,159.9 L446.0,158.0 L446.8,156.2 L447.7,154.4 L448.6,152.6 L449.6,150.9 L450.6,149.1 L451.6,147.4 L452.7,145.7 L453.7,144.0 L454.8,142.3 L456.0,140.7 L457.1,139.0 L458.3,137.4 L459.4,135.8 L460.6,134.1 L461.7,132.5 L462.9,130.9 L464.0,129.2 L465.2,127.6 L466.5,126.1 L467.8,124.5 L469.1,123.0 L470.4,121.5 L471.7,120.0 L473.0,118.5 L474.3,117.0 L475.6,115.4 L476.9,113.9 L478.3,112.4 L479.6,110.9 L480.9,109.4 L482.2,107.9 L483.5,106.3 L484.8,104.8 L486.1,103.3 L487.4,101.8 L488.7,100.3 L490.1,98.8 L491.5,97.3 L492.9,95.9 L494.3,94.5 L495.6,93.0 L497.0,91.6 L498.3,90.1 L499.6,88.5 L500.8,86.9 L502.0,85.3 L503.2,83.7 L504.4,82.1 L505.6,80.6 L506.9,79.0 L508.2,77.5 L509.6,76.1 L511.0,74.6 L512.4,73.2 L513.9,71.9 L515.4,70.6 L517.0,69.3 L518.5,68.1 L520.1,66.9 L521.7,65.6 L523.3,64.4 L524.9,63.2 L526.4,62.0 L528.0,60.7 L529.6,59.5 L531.3,58.4 L532.9,57.2 L534.6,56.2 L536.3,55.1 L538.0,54.1 L539.8,53.1 L541.5,52.2 L543.3,51.3 L545.2,50.5 L547.0,49.7 L548.8,48.9 L550.7,48.2 L552.6,47.5 L554.4,46.8 L556.3,46.1 L558.3,45.5 L560.2,45.0 L562.1,44.4 L564.0,43.9 L566.0,43.4 L567.9,42.8 L569.8,42.3 L571.8,41.9 L573.7,41.4 L575.7,41.0 L577.7,40.6 L579.6,40.2 L581.6,39.7 L583.5,39.4 L585.5,39.0 L587.5,38.6 L589.5,38.3 L591.4,37.9 L593.4,37.7 L595.4,37.4 L597.4,37.2 L599.4,37.0 L601.4,36.8 L603.4,36.6 L605.4,36.5 L607.4,36.3 L609.4,36.2 L611.4,36.1 L613.4,36.0 L615.4,35.9 L617.4,35.8 L619.4,35.7 L621.4,35.7 L623.4,35.6 L625.4,35.5 L627.4,35.5 L629.4,35.5 L631.4,35.5 L633.4,35.4 L635.4,35.4 L637.4,35.4 L639.4,35.4 L641.4,35.5 L643.4,35.5 L645.4,35.5 L647.4,35.6 L649.4,35.7 L651.4,35.7 L653.4,35.8 L655.4,35.9 L657.4,36.0 L659.4,36.2 L661.4,36.4 L663.4,36.6 L665.4,36.8 L667.4,37.1 L669.4,37.4 L671.3,37.7 L673.3,38.1" fill="none" stroke="#ff00ff" stroke-width="5.4" stroke-linecap="round" stroke-linejoin="round" />
<path d="M673.3,38.1 L671.3,38.4 L669.3,38.7 L667.4,39.0 L665.4,39.3 L663.4,39.7 L661.4,40.0 L659.5,40.4 L657.5,40.8 L655.6,41.2 L653.6,41.6 L651.7,42.0 L649.7,42.5 L647.8,43.0 L645.8,43.5 L643.9,44.0 L642.0,44.5 L640.0,45.0 L638.1,45.6 L636.2,46.1 L634.3,46.7 L632.3,47.2 L630.4,47.8 L628.5,48.4 L626.6,49.0 L624.7,49.5 L622.8,50.1 L620.8,50.7 L618.9,51.3 L617.0,51.8 L615.1,52.4 L613.2,53.0 L611.3,53.6 L609.3,54.1 L607.4,54.7 L605.5,55.3 L603.6,55.8 L601.7,56.4 L599.7,56.9 L597.8,57.5 L595.9,57.9 L593.9,58.3 L592.0,58.6 L590.0,58.9 L588.0,59.3 L586.1,59.7 L584.2,60.2 L582.3,60.9 L580.5,61.6 L578.7,62.5 L577.0,63.5 L575.2,64.4 L573.5,65.5 L571.9,66.6 L570.2,67.7 L568.6,68.9 L567.0,70.0 L565.4,71.3 L563.8,72.5 L562.2,73.7 L560.7,75.0 L559.1,76.2 L557.6,77.5 L556.0,78.8 L554.5,80.1 L553.1,81.4 L551.6,82.8 L550.3,84.3 L549.0,85.8 L547.7,87.3 L546.5,88.9 L545.4,90.6 L544.3,92.2 L543.2,93.9 L542.2,95.6 L541.1,97.3 L540.1,99.1 L539.1,100.8 L538.1,102.5 L537.0,104.2 L536.0,105.9 L534.9,107.6 L533.9,109.3 L532.8,111.0 L531.7,112.6 L530.5,114.2 L529.2,115.7 L527.8,117.1 L526.3,118.5 L524.9,119.8 L523.4,121.1 L521.9,122.5 L520.4,123.8 L519.0,125.2 L517.5,126.6 L516.2,128.0 L514.9,129.5 L513.7,131.1 L512.5,132.7 L511.3,134.3 L510.1,135.9 L508.8,137.3 L507.4,138.7 L505.9,140.0 L504.3,141.2 L502.7,142.4 L501.1,143.6 L499.5,144.8 L497.8,145.9 L496.2,147.0 L494.5,148.1 L492.8,149.2 L491.1,150.3 L489.4,151.3 L487.7,152.4 L486.0,153.4 L484.3,154.4 L482.5,155.4 L480.8,156.4 L479.1,157.4 L477.4,158.4 L475.6,159.5 L473.9,160.5 L472.2,161.5 L470.5,162.5 L468.7,163.5 L467.0,164.5 L465.3,165.5 L463.6,166.5 L461.8,167.6 L460.1,168.6 L458.5,169.6 L456.8,170.8 L455.3,171.9 L453.7,173.1 L452.2,174.4 L450.7,175.6 L449.1,176.8 L447.7,178.1 L446.3,179.5 L445.1,181.1 L444.1,182.7 L443.2,184.5 L442.5,186.3 L441.9,188.2 L441.4,190.1 L441.0,192.1 L440.6,194.0 L440.3,196.0" fill="none" stroke="#ff00ff" stroke-width="5.4" stroke-linecap="round" stroke-linejoin="round" />
<path d="M413.6,21.2 H698.3" stroke="#000" stroke-width="3" fill="none" stroke-linecap="square"/>
<path d="M698.3,21.2 V250.3" stroke="#000" stroke-width="3" fill="none"/>
<path d="M413.40000000000003,19.7 V251.8" stroke="#000" stroke-width="3.8" fill="none"/>
<path d="M411.90000000000003,250.3 H699.4" stroke="#000" stroke-width="3" fill="none"/>
<path d="M438.8,250.3 v-5.5 M497.2,250.3 v-3.5 M555.7,250.3 v-5.5 M614.2,250.3 v-3.5 M672.6,250.3 v-5.5" stroke="#000" stroke-width="2" fill="none"/>
<path d="M413.6,248.7 h5.5 M413.6,241.86 h3.2 M413.6,237.85 h3.2 M413.6,235.01 h3.2 M413.6,232.80 h3.2 M413.6,230.99 h3.2 M413.6,229.47 h3.2 M413.6,228.15 h3.2 M413.6,226.98 h3.2 M413.6,225.9 h5.5 M413.6,219.08 h3.2 M413.6,215.07 h3.2 M413.6,212.23 h3.2 M413.6,210.02 h3.2 M413.6,208.21 h3.2 M413.6,206.69 h3.2 M413.6,205.37 h3.2 M413.6,204.20 h3.2 M413.6,203.2 h5.5 M413.6,196.30 h3.2 M413.6,192.29 h3.2 M413.6,189.45 h3.2 M413.6,187.24 h3.2 M413.6,185.43 h3.2 M413.6,183.91 h3.2 M413.6,182.59 h3.2 M413.6,181.42 h3.2 M413.6,180.4 h5.5 M413.6,173.52 h3.2 M413.6,169.51 h3.2 M413.6,166.67 h3.2 M413.6,164.46 h3.2 M413.6,162.65 h3.2 M413.6,161.13 h3.2 M413.6,159.81 h3.2 M413.6,158.64 h3.2 M413.6,157.6 h5.5 M413.6,150.74 h3.2 M413.6,146.73 h3.2 M413.6,143.89 h3.2 M413.6,141.68 h3.2 M413.6,139.87 h3.2 M413.6,138.35 h3.2 M413.6,137.03 h3.2 M413.6,135.86 h3.2 M413.6,134.8 h5.5 M413.6,127.96 h3.2 M413.6,123.95 h3.2 M413.6,121.11 h3.2 M413.6,118.90 h3.2 M413.6,117.09 h3.2 M413.6,115.57 h3.2 M413.6,114.25 h3.2 M413.6,113.08 h3.2 M413.6,112.0 h5.5 M413.6,105.18 h3.2 M413.6,101.17 h3.2 M413.6,98.33 h3.2 M413.6,96.12 h3.2 M413.6,94.31 h3.2 M413.6,92.79 h3.2 M413.6,91.47 h3.2 M413.6,90.30 h3.2 M413.6,89.3 h5.5 M413.6,82.40 h3.2 M413.6,78.39 h3.2 M413.6,75.55 h3.2 M413.6,73.34 h3.2 M413.6,71.53 h3.2 M413.6,70.01 h3.2 M413.6,68.69 h3.2 M413.6,67.52 h3.2 M413.6,66.5 h5.5 M413.6,59.62 h3.2 M413.6,55.61 h3.2 M413.6,52.77 h3.2 M413.6,50.56 h3.2 M413.6,48.75 h3.2 M413.6,47.23 h3.2 M413.6,45.91 h3.2 M413.6,44.74 h3.2 M413.6,43.7 h5.5 M413.6,36.84 h3.2 M413.6,32.83 h3.2 M413.6,29.99 h3.2 M413.6,27.78 h3.2 M413.6,25.97 h3.2 M413.6,24.45 h3.2 M413.6,23.13 h3.2 M413.6,21.96 h3.2" stroke="#000" stroke-width="1.6" fill="none"/>
<text x="438.8" y="267.2" font-family='"Liberation Sans", Arial, sans-serif' font-size="15" font-weight="bold" text-anchor="middle" fill="#000" >0</text>
<text x="555.7" y="267.2" font-family='"Liberation Sans", Arial, sans-serif' font-size="15" font-weight="bold" text-anchor="middle" fill="#000" >45</text>
<text x="672.6" y="267.2" font-family='"Liberation Sans", Arial, sans-serif' font-size="15" font-weight="bold" text-anchor="middle" fill="#000" >90</text>
<text x="407.9" y="42.7" font-family='"Liberation Sans", Arial, sans-serif' font-size="9.6" font-weight="bold" text-anchor="end" fill="#000">-5</text>
<text x="399.2" y="49.8" font-family='"Liberation Sans", Arial, sans-serif' font-size="15.4" font-weight="bold" text-anchor="end" fill="#000">10</text>
<text x="407.9" y="111.0" font-family='"Liberation Sans", Arial, sans-serif' font-size="9.6" font-weight="bold" text-anchor="end" fill="#000">-8</text>
<text x="399.2" y="118.1" font-family='"Liberation Sans", Arial, sans-serif' font-size="15.4" font-weight="bold" text-anchor="end" fill="#000">10</text>
<text x="408.3" y="179.4" font-family='"Liberation Sans", Arial, sans-serif' font-size="9.6" font-weight="bold" text-anchor="end" fill="#000">-11</text>
<text x="394.2" y="186.5" font-family='"Liberation Sans", Arial, sans-serif' font-size="15.4" font-weight="bold" text-anchor="end" fill="#000">10</text>
<text x="408.3" y="247.7" font-family='"Liberation Sans", Arial, sans-serif' font-size="9.6" font-weight="bold" text-anchor="end" fill="#000">-14</text>
<text x="394.2" y="254.8" font-family='"Liberation Sans", Arial, sans-serif' font-size="15.4" font-weight="bold" text-anchor="end" fill="#000">10</text>
<text x="561.2" y="287.5" font-family='"Liberation Sans", Arial, sans-serif' font-size="20" font-weight="bold" text-anchor="middle" fill="#000" >Voltage (V)</text>
<text transform="translate(370.6,132.4) rotate(-90)" font-family='"Liberation Sans", Arial, sans-serif' font-size="19.8" font-weight="bold" text-anchor="middle" fill="#000">Current (A)</text>
<text x="412.7" y="14" font-family='"Liberation Serif", "Times New Roman", serif' font-size="18" font-weight="bold" text-anchor="start" fill="#000" >(b)</text>
<path d="M593.6,172.6 H623" stroke="#000" stroke-width="3.1" fill="none"/>
<circle cx="608.4" cy="172.6" r="2.8" fill="#000"/>
<text x="626.7" y="176.7" font-family='"Liberation Sans", Arial, sans-serif' font-size="14.2" font-weight="bold" text-anchor="start" fill="#000" word-spacing="3.2">HT: 0 s</text>
<path d="M593.6,192.2 H623" stroke="#ff0000" stroke-width="3.1" fill="none"/>
<circle cx="608.4" cy="192.2" r="2.8" fill="#ff0000"/>
<text x="626.7" y="196.3" font-family='"Liberation Sans", Arial, sans-serif' font-size="14.2" font-weight="bold" text-anchor="start" fill="#000" word-spacing="3.2">HT: 0.1 s</text>
<path d="M593.6,211.8 H623" stroke="#0000ff" stroke-width="3.1" fill="none"/>
<circle cx="608.4" cy="211.8" r="2.8" fill="#0000ff"/>
<text x="626.7" y="215.9" font-family='"Liberation Sans", Arial, sans-serif' font-size="14.2" font-weight="bold" text-anchor="start" fill="#000" word-spacing="3.2">HT: 1 s</text>
<path d="M593.6,231.4 H623" stroke="#ff00ff" stroke-width="3.1" fill="none"/>
<circle cx="608.4" cy="231.4" r="2.8" fill="#ff00ff"/>
<text x="626.7" y="235.5" font-family='"Liberation Sans", Arial, sans-serif' font-size="14.2" font-weight="bold" text-anchor="start" fill="#000" word-spacing="3.2">HT: 10 s</text>
</svg>
</body></html>
